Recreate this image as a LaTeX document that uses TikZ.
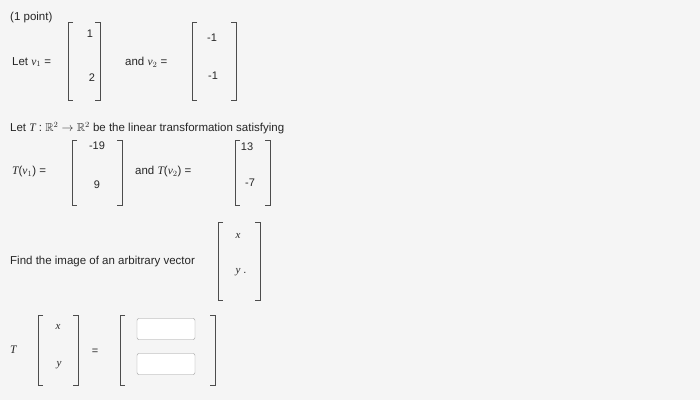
\documentclass[tikz,border=0pt]{standalone}
\usepackage{amssymb}
\usepackage{fontspec}
\setmainfont{Liberation Sans}
\newfontfamily\mathserif{Liberation Serif}
\begin{document}
\begin{tikzpicture}[x=1pt,y=-1pt,
  txt/.style={anchor=west,font=\fontsize{11.5}{13}\selectfont,text=black!85,inner sep=0},
  ent/.style={font=\fontsize{11}{13}\selectfont,text=black!85,inner sep=0},
  br/.style={draw=black!70,line width=0.9pt},
  inbox/.style={draw=black!40,fill=white,rounded corners=2pt,minimum width=58pt,minimum height=21pt}]
\fill[black!4] (0,0) rectangle (700,400);
\useasboundingbox (0,0) rectangle (700,400);
\newcommand\mybr[4]{\draw[br] (#1+5,#2)--(#1,#2)--(#1,#4)--(#1+5,#4);\draw[br] (#3-5,#2)--(#3,#2)--(#3,#4)--(#3-5,#4);}
\node[txt] (pt) at (10,18) {(1 point)};
\node[txt] (l1) at (12,62) {Let {\mathserif\itshape v}$_1$ =};
\mybr{68}{22}{100}{100}
\node[ent] (a1) at (90,34) {1};
\node[ent] (a2) at (92,78) {2};
\node[txt] (l2) at (125,62) {and {\mathserif\itshape v}$_2$ =};
\mybr{192}{22}{236}{100}
\node[ent] (b1) at (212,38) {-1};
\node[ent] (b2) at (213,76) {-1};
\node[txt] (l3) at (10,128) {Let {\mathserif\itshape T} : $\mathbb{R}^2$ $\rightarrow$ $\mathbb{R}^2$ be the linear transformation satisfying};
\node[txt] (l4) at (12,172) {{\mathserif\itshape T}({\mathserif\itshape v}$_1$) =};
\mybr{72}{140}{122}{205}
\node[ent] (c1) at (97,146) {-19};
\node[ent] (c2) at (97,185) {9};
\node[txt] (l5) at (135,172) {and {\mathserif\itshape T}({\mathserif\itshape v}$_2$) =};
\mybr{235}{140}{270}{205}
\node[ent] (d1) at (247,147) {13};
\node[ent] (d2) at (250,183) {-7};
\node[txt] (l6) at (10,262) {Find the image of an arbitrary vector};
\mybr{218}{222}{260}{300}
\node[ent] (e1) at (238,236) {\mathserif\itshape x};
\node[ent] (e2) at (241,272) {{\mathserif\itshape y} .};
\node[txt] (l7) at (10,350) {\mathserif\itshape T};
\mybr{38}{315}{78}{385}
\node[ent] (f1) at (58,327) {\mathserif\itshape x};
\node[ent] (f2) at (59,365) {\mathserif\itshape y};
\node[ent] (eq) at (95,352) {=};
\mybr{120}{315}{215}{385}
\node[inbox] (g1) at (166,329) {};
\node[inbox] (g2) at (166,364) {};
\end{tikzpicture}
\end{document}
